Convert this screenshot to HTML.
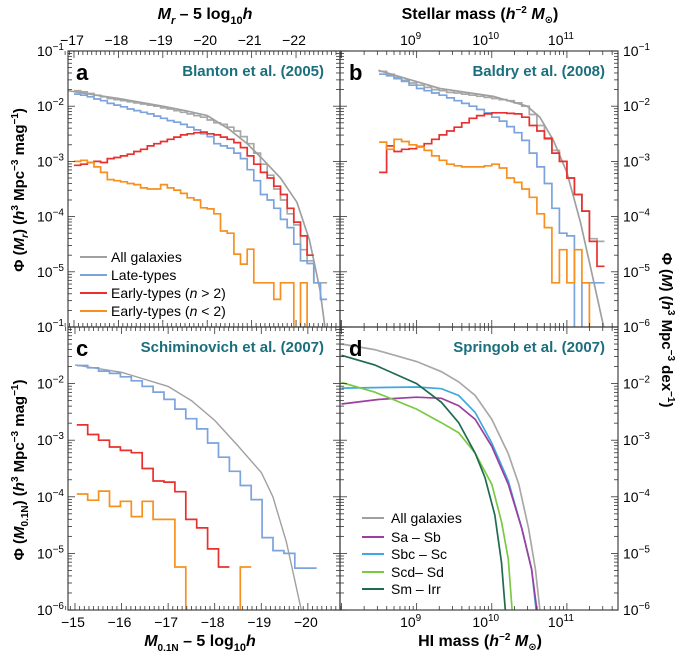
<!DOCTYPE html>
<html><head><meta charset="utf-8"><style>
html,body{margin:0;padding:0;background:#fff;}
svg{display:block;font-family:"Liberation Sans","DejaVu Sans",sans-serif;}
</style></head><body>
<svg id="chart" width="685" height="660" viewBox="0 0 685 660" xmlns="http://www.w3.org/2000/svg">
<defs>
<clipPath id="clipA"><rect x="68" y="51" width="272" height="276"/></clipPath>
<clipPath id="clipB"><rect x="340" y="51" width="278" height="276"/></clipPath>
<clipPath id="clipC"><rect x="68" y="327" width="272" height="283"/></clipPath>
<clipPath id="clipD"><rect x="340" y="327" width="278" height="283"/></clipPath>
</defs>
<g id="marks"></g>
<g id="axes"></g>
<text x="205" y="19" text-anchor="middle" font-size="16" font-weight="bold"><tspan font-style="italic">M</tspan><tspan font-size="11" font-style="italic" dy="5">r</tspan><tspan dy="-5"> – 5 log</tspan><tspan font-size="11" dy="5">10</tspan><tspan dy="-5" font-style="italic">h</tspan></text>
<text x="480" y="19" text-anchor="middle" font-size="16" font-weight="bold">Stellar mass (<tspan font-style="italic">h</tspan><tspan font-size="10" dy="-6">−2</tspan><tspan dy="6" font-style="italic"> M</tspan><tspan font-size="10" dy="4">⊙</tspan><tspan dy="-4">)</tspan></text>
<text x="200" y="646" text-anchor="middle" font-size="16" font-weight="bold"><tspan font-style="italic">M</tspan><tspan font-size="10" dy="5">0.1N</tspan><tspan dy="-5"> – 5 log</tspan><tspan font-size="11" dy="5">10</tspan><tspan dy="-5" font-style="italic">h</tspan></text>
<text x="480" y="646" text-anchor="middle" font-size="16" font-weight="bold">HI mass (<tspan font-style="italic">h</tspan><tspan font-size="10" dy="-6">−2</tspan><tspan dy="6" font-style="italic"> M</tspan><tspan font-size="10" dy="4">⊙</tspan><tspan dy="-4">)</tspan></text>
<text transform="translate(24,190) rotate(-90)" text-anchor="middle" font-size="15" font-weight="bold">Φ (<tspan font-style="italic">M</tspan><tspan font-size="10" dy="4" font-style="italic">r</tspan><tspan dy="-4">) (</tspan><tspan font-style="italic">h</tspan><tspan font-size="10" dy="-6">3</tspan><tspan dy="6"> Mpc</tspan><tspan font-size="10" dy="-6">−3</tspan><tspan dy="6"> mag</tspan><tspan font-size="10" dy="-6">−1</tspan><tspan dy="6">)</tspan></text>
<text transform="translate(24,470) rotate(-90)" text-anchor="middle" font-size="15" font-weight="bold">Φ (<tspan font-style="italic">M</tspan><tspan font-size="10" dy="4">0.1N</tspan><tspan dy="-4">) (</tspan><tspan font-style="italic">h</tspan><tspan font-size="10" dy="-6">3</tspan><tspan dy="6"> Mpc</tspan><tspan font-size="10" dy="-6">−3</tspan><tspan dy="6"> mag</tspan><tspan font-size="10" dy="-6">−1</tspan><tspan dy="6">)</tspan></text>
<text transform="translate(662,330) rotate(90)" text-anchor="middle" font-size="15" font-weight="bold">Φ (<tspan font-style="italic">M</tspan>) (<tspan font-style="italic">h</tspan><tspan font-size="10" dy="-6">3</tspan><tspan dy="6"> Mpc</tspan><tspan font-size="10" dy="-6">−3</tspan><tspan dy="6"> dex</tspan><tspan font-size="10" dy="-6">−1</tspan><tspan dy="6">)</tspan></text>
<text x="76" y="80" font-size="22" font-weight="bold">a</text>
<text x="349" y="80" font-size="22" font-weight="bold">b</text>
<text x="76" y="356" font-size="22" font-weight="bold">c</text>
<text x="349" y="356" font-size="22" font-weight="bold">d</text>
<text x="324" y="76" text-anchor="end" font-size="15" font-weight="bold" fill="#1b6f7d">Blanton et al. (2005)</text>
<text x="605" y="76" text-anchor="end" font-size="15" font-weight="bold" fill="#1b6f7d">Baldry et al. (2008)</text>
<text x="324" y="352" text-anchor="end" font-size="15" font-weight="bold" fill="#1b6f7d">Schiminovich et al. (2007)</text>
<text x="605" y="352" text-anchor="end" font-size="15" font-weight="bold" fill="#1b6f7d">Springob et al. (2007)</text>
<g font-size="14">
<line x1="80" y1="257" x2="107" y2="257" stroke="#a0a0a0" stroke-width="2"/><text x="111" y="262">All galaxies</text>
<line x1="80" y1="275" x2="107" y2="275" stroke="#7ba3dc" stroke-width="2"/><text x="111" y="280">Late-types</text>
<line x1="80" y1="293" x2="107" y2="293" stroke="#e8312f" stroke-width="2"/><text x="111" y="298">Early-types (<tspan font-style="italic">n</tspan> &gt; 2)</text>
<line x1="80" y1="311" x2="107" y2="311" stroke="#f7901e" stroke-width="2"/><text x="111" y="316">Early-types (<tspan font-style="italic">n</tspan> &lt; 2)</text>
</g>
<g font-size="14">
<line x1="362" y1="518" x2="384" y2="518" stroke="#a0a0a0" stroke-width="2"/><text x="391" y="523">All galaxies</text>
<line x1="362" y1="537" x2="384" y2="537" stroke="#9b3fa0" stroke-width="2"/><text x="391" y="542">Sa – Sb</text>
<line x1="362" y1="554" x2="384" y2="554" stroke="#3fa9df" stroke-width="2"/><text x="391" y="559">Sbc – Sc</text>
<line x1="362" y1="572" x2="384" y2="572" stroke="#7ac943" stroke-width="2"/><text x="391" y="577">Scd– Sd</text>
<line x1="362" y1="589" x2="384" y2="589" stroke="#1f6b4e" stroke-width="2"/><text x="391" y="594">Sm – Irr</text>
</g>
</svg>
<script>
// ---------- DATA ----------
const aBinStart = -17.0, aBinWidth = -0.15;
const aAll = [-1.72,-1.74,-1.77,-1.8,-1.83,-1.86,-1.88,-1.9,-1.92,-1.94,-1.96,-1.98,-2.0,-2.03,-2.05,-2.08,-2.11,-2.14,-2.17,-2.2,-2.25,-2.3,-2.33,-2.38,-2.45,-2.55,-2.68,-2.85,-3.05,-3.25,-3.5,-3.7,-3.95,-4.15,-4.6,-4.8,-5.2,-5.2];
const aLate = [-1.78,-1.8,-1.83,-1.87,-1.9,-1.95,-1.98,-2.01,-2.05,-2.08,-2.11,-2.14,-2.18,-2.22,-2.26,-2.29,-2.33,-2.38,-2.43,-2.5,-2.55,-2.68,-2.72,-2.76,-2.85,-2.95,-3.15,-3.35,-3.6,-3.7,-3.85,-4.05,-4.2,-4.5,-4.8,-4.85,-5.2,-5.5];
const aEarlyHi = [-3.07,-3.05,-3.02,-3.0,-3.02,-2.95,-2.93,-2.9,-2.87,-2.82,-2.78,-2.72,-2.68,-2.64,-2.6,-2.56,-2.52,-2.5,-2.48,-2.47,-2.5,-2.52,-2.56,-2.6,-2.66,-2.75,-2.9,-3.05,-3.2,-3.3,-3.45,-3.6,-3.85,-4.1,-4.35,-4.7];
const aEarlyLo = [-3.0,-2.98,-3.02,-3.1,-3.2,-3.33,-3.35,-3.37,-3.4,-3.42,-3.48,-3.5,-3.5,-3.42,-3.48,-3.52,-3.58,-3.66,-3.7,-3.84,-3.86,-3.95,-4.26,-4.3,-4.68,-4.86,-4.59,-5.2,-5.2,-5.2,-5.5,-5.2,-5.2,-7,-5.2,-7];
const aFitM = [-16.87,-17.5,-18,-18.5,-19,-19.5,-20,-20.5,-20.9,-21.26,-21.65,-22.02,-22.3,-22.54,-22.65];
const aFitPhi = [-1.72,-1.8,-1.86,-1.93,-2.0,-2.08,-2.17,-2.42,-2.68,-2.97,-3.3,-3.74,-4.42,-5.33,-6.0];
const bBinStart = 8.5, bBinWidth = 0.1;
const bAll = [-1.37,-1.42,-1.48,-1.53,-1.58,-1.62,-1.66,-1.7,-1.72,-1.75,-1.76,-1.78,-1.8,-1.82,-1.84,-1.86,-1.88,-1.9,-1.94,-2.0,-2.15,-2.35,-2.6,-2.8,-3.0,-3.3,-3.6,-3.9,-4.4,-4.45];
const bLate = [-1.42,-1.45,-1.5,-1.55,-1.62,-1.68,-1.72,-1.76,-1.8,-1.85,-1.9,-1.95,-2.0,-2.06,-2.12,-2.2,-2.27,-2.37,-2.48,-2.62,-2.85,-3.1,-3.4,-3.85,-4.3,-4.35,-7,-5.2,-5.2,-5.2];
const bEarlyHi = [-3.2,-2.72,-2.82,-2.78,-2.77,-2.73,-2.68,-2.6,-2.52,-2.45,-2.38,-2.3,-2.22,-2.17,-2.14,-2.12,-2.12,-2.13,-2.14,-2.2,-2.35,-2.45,-2.58,-2.85,-3.0,-3.3,-3.6,-3.9,-4.45,-4.9];
const bEarlyLo = [-2.65,-2.78,-2.6,-2.64,-2.7,-2.74,-2.8,-2.9,-2.98,-3.05,-3.08,-3.1,-3.1,-3.1,-3.08,-3.05,-3.12,-3.3,-3.38,-3.5,-3.65,-3.95,-4.2,-5.2,-4.6,-5.2,-4.6,-5.2,-7,-7];
const bFitM = [8.49,9.31,10.02,10.47,10.64,10.82,11.0,11.18,11.36,11.49,11.6];
const bFitPhi = [-1.35,-1.68,-1.82,-2.0,-2.2,-2.62,-3.2,-4.1,-5.2,-6.0,-6.6];
const cBinStart = -15.04, cBinWidth = -0.234;
const cAll = [-1.68,-1.72,-1.78,-1.82,-1.88,-1.95,-2.05,-2.15,-2.28,-2.45,-2.62,-2.8,-3.05,-3.3,-3.55,-3.8,-4.05,-4.72,-4.95,-5.0,-5.26,-5.26];
const cEarlyHi = [-2.73,-2.9,-3.0,-3.12,-3.18,-3.22,-3.5,-3.72,-3.74,-3.91,-4.4,-4.55,-4.92,-5.24];
const cEarlyLo = [-3.95,-4.06,-3.9,-4.17,-4.08,-4.35,-4.08,-4.4,-4.4,-5.24,-7,-7,-7,-7,-7,-5.24];
const cFitM = [-15.0,-16.0,-17.0,-17.5,-18.0,-18.5,-19.0,-19.25,-19.54,-19.86];
const cFitPhi = [-1.67,-1.8,-2.05,-2.3,-2.65,-3.1,-3.57,-4.0,-4.8,-6.0];
const dAllM = [8.0,8.44,9.0,9.33,9.56,9.78,10.0,10.22,10.36,10.49,10.58,10.64];
const dAllPhi = [-1.3,-1.4,-1.61,-1.79,-1.97,-2.21,-2.63,-3.24,-3.78,-4.56,-5.28,-6.0];
const dSaM = [8.0,8.5,9.0,9.33,9.56,9.78,10.0,10.22,10.4,10.53,10.6];
const dSaPhi = [-2.36,-2.28,-2.24,-2.26,-2.39,-2.63,-3.11,-3.78,-4.56,-5.28,-6.0];
const dSbcM = [8.0,9.0,9.33,9.56,9.78,10.0,10.22,10.4,10.53,10.59];
const dSbcPhi = [-2.08,-2.06,-2.09,-2.21,-2.51,-3.05,-3.72,-4.56,-5.28,-6.0];
const dScdM = [8.0,8.44,8.67,9.0,9.33,9.56,9.78,10.0,10.13,10.22,10.27];
const dScdPhi = [-1.98,-2.15,-2.27,-2.45,-2.69,-2.87,-3.23,-3.78,-4.44,-5.1,-6.0];
const dSmM = [8.0,8.44,9.0,9.33,9.56,9.78,9.91,10.04,10.13,10.18];
const dSmPhi = [-1.5,-1.67,-2.0,-2.33,-2.69,-3.23,-3.66,-4.32,-5.16,-6.0];
const magTicksTop = [-17,-18,-19,-20,-21,-22];
const magTicksBottom = [-15,-16,-17,-18,-19,-20];
const massTicks = [9,10,11];
const phiTicks = [-1,-2,-3,-4,-5,-6];

// ---------- AXES ----------
const NS = 'http://www.w3.org/2000/svg';
function lin(d0,d1,r0,r1){return v=>r0+(v-d0)*(r1-r0)/(d1-d0);}
const P = {
  a:{x0:68,x1:340,y0:51,y1:327,xs:lin(-16.865,-22.99,68,340),ys:lin(-1,-6,51,327),clip:'clipA'},
  b:{x0:340,x1:618,y0:51,y1:327,xs:lin(7.98,11.68,340,618),ys:lin(-1,-6,51,327),clip:'clipB'},
  c:{x0:68,x1:340,y0:327,y1:610,xs:lin(-14.85,-20.69,68,340),ys:lin(-1,-6,327,610),clip:'clipC'},
  d:{x0:340,x1:618,y0:327,y1:610,xs:lin(7.98,11.68,340,618),ys:lin(-1,-6,327,610),clip:'clipD'}
};
const marks = document.getElementById('marks');
const axes = document.getElementById('axes');
function mk(tag,attrs,parent){const e=document.createElementNS(NS,tag);for(const k in attrs)e.setAttribute(k,attrs[k]);parent.appendChild(e);return e;}

function histPath(p,start,width,vals){
  let d='';const bot=p.y1+20;
  for(let i=0;i<vals.length;i++){
    const xa=p.xs(start+i*width), xb=p.xs(start+(i+1)*width);
    const y=vals[i]<-6.5?bot:p.ys(vals[i]);
    d+=(i===0?'M':'L')+xa.toFixed(1)+','+y.toFixed(1)+'L'+xb.toFixed(1)+','+y.toFixed(1);
  }
  return d;
}
function curvePath(p,xsArr,ysArr){
  return xsArr.map((v,i)=>(i?'L':'M')+p.xs(v).toFixed(1)+','+p.ys(ysArr[i]).toFixed(1)).join('');
}
function drawSeries(p,d,color,name,w){
  const e=mk('path',{d:d,fill:'none',stroke:color,'stroke-width':w||1.7,'clip-path':'url(#'+p.clip+')','stroke-linejoin':'miter'},marks);
  
  
}
drawSeries(P.a,histPath(P.a,aBinStart,aBinWidth,aAll),'#a8a8a8','a-all-galaxies-histogram');
drawSeries(P.a,curvePath(P.a,aFitM,aFitPhi),'#a0a0a0','a-all-galaxies-fit');
drawSeries(P.a,histPath(P.a,aBinStart,aBinWidth,aLate),'#7ba3dc','a-late-types-histogram');
drawSeries(P.a,histPath(P.a,aBinStart,aBinWidth,aEarlyHi),'#e8312f','a-early-types-n-gt-2-histogram');
drawSeries(P.a,histPath(P.a,aBinStart,aBinWidth,aEarlyLo),'#f7901e','a-early-types-n-lt-2-histogram');
drawSeries(P.b,histPath(P.b,bBinStart,bBinWidth,bAll),'#a8a8a8','b-all-galaxies-histogram');
drawSeries(P.b,curvePath(P.b,bFitM,bFitPhi),'#a0a0a0','b-all-galaxies-fit');
drawSeries(P.b,histPath(P.b,bBinStart,bBinWidth,bLate),'#7ba3dc','b-late-types-histogram');
drawSeries(P.b,histPath(P.b,bBinStart,bBinWidth,bEarlyHi),'#e8312f','b-early-types-n-gt-2-histogram');
drawSeries(P.b,histPath(P.b,bBinStart,bBinWidth,bEarlyLo),'#f7901e','b-early-types-n-lt-2-histogram');
drawSeries(P.c,curvePath(P.c,cFitM,cFitPhi),'#a0a0a0','c-all-galaxies-fit',1.4);
drawSeries(P.c,histPath(P.c,cBinStart,cBinWidth,cAll),'#7ba3dc','c-late-types-histogram');
drawSeries(P.c,histPath(P.c,cBinStart,cBinWidth,cEarlyHi),'#e8312f','c-early-types-n-gt-2-histogram');
drawSeries(P.c,histPath(P.c,cBinStart,cBinWidth,cEarlyLo),'#f7901e','c-early-types-n-lt-2-histogram');
drawSeries(P.d,curvePath(P.d,dAllM,dAllPhi),'#a8a8a8','d-all-galaxies-curve');
drawSeries(P.d,curvePath(P.d,dSbcM,dSbcPhi),'#3fa9df','d-sbc-sc-curve');
drawSeries(P.d,curvePath(P.d,dSaM,dSaPhi),'#9b3fa0','d-sa-sb-curve');
drawSeries(P.d,curvePath(P.d,dScdM,dScdPhi),'#7ac943','d-scd-sd-curve');
drawSeries(P.d,curvePath(P.d,dSmM,dSmPhi),'#1f6b4e','d-sm-irr-curve');

const tk='#333';
function tick(x1,y1,x2,y2,parent){mk('line',{x1:x1,y1:y1,x2:x2,y2:y2,stroke:tk,'stroke-width':0.8},parent);}
for(const key in P){
  const p=P[key];
  const g=mk('g',{},axes);
  
  
  mk('rect',{x:p.x0,y:p.y0,width:p.x1-p.x0,height:p.y1-p.y0,fill:'none',stroke:'#444','stroke-width':1.2},g);
  for(let dcd=-1;dcd>-7;dcd--){
    const y=p.ys(dcd);
    tick(p.x0,y,p.x0+7,y,g);tick(p.x1,y,p.x1-7,y,g);
    if(dcd>-6){for(let k=2;k<10;k++){const yy=p.ys(dcd-1+Math.log10(k));tick(p.x0,yy,p.x0+4,yy,g);tick(p.x1,yy,p.x1-4,yy,g);}}
  }
  if(key==='a'||key==='c'){
    const lo=key==='a'?-16.8:-14.8, hi=key==='a'?-23:-20.7;
    for(let m=Math.ceil(-lo*10)/10;m<=-hi+1e-9;m=Math.round((m+0.1)*10)/10){
      const x=p.xs(-m);const major=Math.abs(m-Math.round(m))<1e-6;const L=major?7:4;
      tick(x,p.y0,x,p.y0+L,g);tick(x,p.y1,x,p.y1-L,g);
    }
  } else {
    for(let dcd=7;dcd<12;dcd++){for(let k=1;k<10;k++){const lv=dcd+Math.log10(k);if(lv<7.98||lv>11.68)continue;const x=p.xs(lv);const L=k===1?7:4;tick(x,p.y0,x,p.y0+L,g);tick(x,p.y1,x,p.y1-L,g);}}
  }
}
function supLabel(x,y,base,exp,anchor,name){
  const t=mk('text',{x:x,y:y,'font-size':14,'text-anchor':anchor},axes);
  
  
  const s1=mk('tspan',{},t);s1.textContent=base;
  const s2=mk('tspan',{'font-size':10,dy:-6},t);s2.textContent=exp;
}
phiTicks.forEach(v=>{
  const e='−'+(-v);
  const lblTop = v===-6 ? '−1' : e;
  supLabel(64,P.a.ys(v)+5,'10',lblTop,'end','left-tick-top-'+(-v));
  if(v!==-1) supLabel(64,P.c.ys(v)+5,'10',e,'end','left-tick-bottom-'+(-v));
  supLabel(623,P.b.ys(v)+5,'10',e,'start','right-tick-top-'+(-v));
  if(v!==-1) supLabel(623,P.d.ys(v)+5,'10',e,'start','right-tick-bottom-'+(-v));
});
magTicksTop.forEach(v=>{
  const t=mk('text',{x:P.a.xs(v)-2,y:45,'font-size':14,'text-anchor':'middle'},axes);
  
  
  t.textContent='−'+(-v);
});
magTicksBottom.forEach(v=>{
  const t=mk('text',{x:P.c.xs(v)-2,y:627,'font-size':14,'text-anchor':'middle'},axes);
  
  
  t.textContent='−'+(-v);
});
massTicks.forEach(v=>{
  supLabel(P.b.xs(v)-6,45,'10',String(v),'middle','top-mass-tick-label');
  supLabel(P.d.xs(v)-6,627,'10',String(v),'middle','bottom-mass-tick-label');
});
</script>
</body></html>
